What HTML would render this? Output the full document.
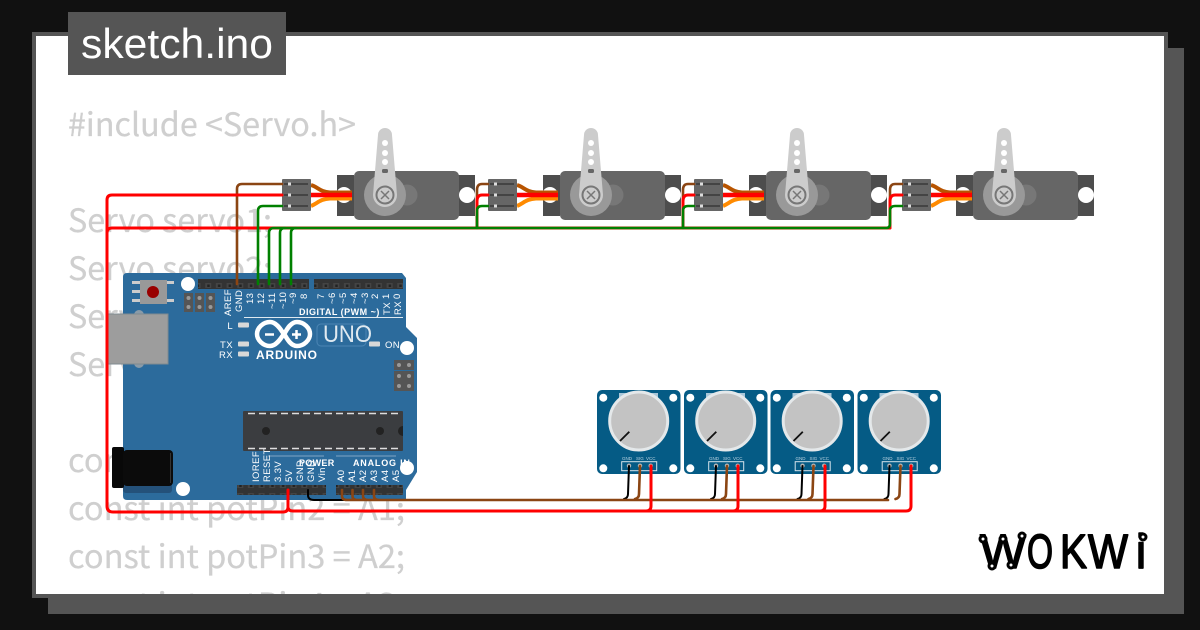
<!DOCTYPE html>
<html><head><meta charset="utf-8"><style>
html,body{margin:0;padding:0;background:#111}
svg{display:block}
.c{font-family:"Noto Sans CJK JP","DejaVu Sans",sans-serif;font-size:32px;fill:#cfcfcf;stroke:#cfcfcf;stroke-width:.25px}
.w{font-family:"Liberation Sans",sans-serif;fill:#fff}
.l{font-family:"Liberation Sans",sans-serif;fill:#fff;font-size:9.5px;letter-spacing:.4px}
.b{font-family:"Liberation Sans",sans-serif;fill:#fff;font-size:9px;font-weight:bold}
.p{font-family:"Liberation Sans",sans-serif;fill:#b9d2e0;font-size:4.5px}
.k{font-family:"Liberation Sans",sans-serif;font-size:48px;fill:#000;stroke:#000;stroke-width:1.6px;stroke-linejoin:round}
.t path,.t line{fill:none;stroke-linejoin:round;stroke-linecap:round}
</style></head><body>
<svg xmlns="http://www.w3.org/2000/svg" width="1200" height="630" viewBox="0 0 1200 630">
<defs>
<pattern id="hp" x="0" y="0" width="10.67" height="10" patternUnits="userSpaceOnUse">
<rect width="10.67" height="10" fill="#333"/><path d="M2.5 3h6v5h-6z" fill="#444"/><path d="M4.5 4.5h2.500v2.500h-2.500z" fill="#222"/>
</pattern>
<g id="servo">
<rect x="-48" y="-20" width="17" height="41" fill="#4d4d4d"/>
<rect x="73" y="-20" width="17" height="41" fill="#4d4d4d"/>
<rect x="-31" y="-24" width="105" height="49" rx="5" fill="#666"/>
<circle cx="-41" cy="0" r="8" fill="#fff"/>
<circle cx="82" cy="0" r="8" fill="#fff"/>
<circle cx="22" cy="0" r="10.500" fill="#777"/>
<circle cx="0" cy="0" r="21" fill="#999"/>
<path d="M-7-60a7 7 0 0 1 14 0L12 0a12 12 0 0 1-24 0Z" fill="#ccc"/>
<circle cx="0" cy="-52" r="3" fill="#fff"/><circle cx="0" cy="-42" r="3" fill="#fff"/><circle cx="0" cy="-33" r="3" fill="#fff"/>
<rect x="-3" y="-26" width="6" height="4" rx="1.500" fill="#666"/>
<circle cx="0" cy="0" r="8.500" fill="#ccc" stroke="#777" stroke-width="2"/>
<path d="M-4-4 4 4M4-4-4 4" stroke="#777" stroke-width="1.500"/>
</g>
<g id="conn">
<rect x="0" y="0" width="29" height="32" rx="1" fill="#666"/>
<path d="M2 4h24v2h-24zM2 15h24v2h-24zM2 26h24v2h-24z" fill="#444"/>
<rect x="6" y="3.500" width="3" height="3" fill="#ddd"/><rect x="6" y="14.500" width="3" height="3" fill="#ddd"/><rect x="6" y="25.500" width="3" height="3" fill="#ddd"/>
</g>
<g id="fat" fill="none">
<path d="M29 6C36 8 38 13 48 13.500H70" stroke="#b85400" stroke-width="4"/>
<path d="M29 27C36 24 38 20 48 19.500H70" stroke="#ff8a00" stroke-width="4"/>
<path d="M29 16H70" stroke="#f00" stroke-width="4.500"/>
</g>
<g id="pot">
<rect x="0" y="0" width="83.500" height="84" rx="5" fill="#055b85"/>
<rect x="22" y="3" width="39" height="7" fill="#a9c6d8"/>
<circle cx="6.300" cy="7.700" r="4" fill="#fff"/><circle cx="76.300" cy="7.700" r="4" fill="#fff"/>
<circle cx="6.300" cy="78.300" r="4" fill="#fff"/><circle cx="76.300" cy="78.300" r="4" fill="#fff"/>
<circle cx="41.700" cy="31" r="29" fill="#c3c3c3" stroke="#e4e8ea" stroke-width="3"/>
<path d="M23 51 32.300 41.700" stroke="#111" stroke-width="1.800"/>
<rect x="24.700" y="71.700" width="35" height="9" fill="none" stroke="#d5e3ea" stroke-width="1"/>
<circle cx="32" cy="75.700" r="2.200" fill="#b3b3b3"/><circle cx="43" cy="75.700" r="2.200" fill="#b3b3b3"/><circle cx="53.700" cy="75.700" r="2.200" fill="#b3b3b3"/>
</g>
</defs>

<rect width="1200" height="630" fill="#111"/>
<rect x="48" y="48" width="1136" height="566" fill="#555"/>
<rect x="32" y="32" width="1136" height="566" fill="#555"/>
<rect x="36" y="36" width="1128" height="558" fill="#fff"/>

<clipPath id="cc"><rect x="36" y="36" width="1128" height="558"/></clipPath>
<g clip-path="url(#cc)">
<text class="c" x="68" y="136" textLength="288" lengthAdjust="spacingAndGlyphs">#include &lt;Servo.h&gt;</text>
<text class="c" x="68" y="232" textLength="204" lengthAdjust="spacingAndGlyphs">Servo servo1;</text>
<text class="c" x="68" y="280" textLength="204" lengthAdjust="spacingAndGlyphs">Servo servo2;</text>
<text class="c" x="68" y="328" textLength="204" lengthAdjust="spacingAndGlyphs">Servo servo3;</text>
<text class="c" x="68" y="376" textLength="204" lengthAdjust="spacingAndGlyphs">Servo servo4;</text>
<text class="c" x="68" y="472" textLength="337" lengthAdjust="spacingAndGlyphs">const int potPin1 = A0;</text>
<text class="c" x="68" y="520" textLength="337" lengthAdjust="spacingAndGlyphs">const int potPin2 = A1;</text>
<text class="c" x="68" y="568" textLength="337" lengthAdjust="spacingAndGlyphs">const int potPin3 = A2;</text>
<text class="c" x="68" y="616" textLength="337" lengthAdjust="spacingAndGlyphs">const int potPin4 = A3;</text>
</g>

<rect x="68" y="12" width="218" height="63" fill="#555"/>
<text class="w" x="81" y="58" font-size="42" textLength="192" lengthAdjust="spacingAndGlyphs">sketch.ino</text>

<!-- Arduino -->
<path d="M127 273H402L406 278V327L417 338V472L406 490V500H127Q123 500 123 496V277Q123 273 127 273Z" fill="#2c6b9c"/>
<rect x="198" y="279" width="111" height="10" fill="url(#hp)"/>
<rect x="314" y="279" width="89" height="10" fill="url(#hp)"/>
<rect x="237" y="485" width="89" height="10" fill="url(#hp)"/>
<rect x="336" y="485" width="67" height="10" fill="url(#hp)"/>
<circle cx="188" cy="284" r="7" fill="#fff"/><circle cx="407" cy="348" r="7" fill="#fff"/>
<circle cx="407" cy="468" r="7" fill="#fff"/><circle cx="183" cy="489" r="7" fill="#fff"/>
<!-- reset -->
<path d="M132 281h9v3h-9zM132 290h9v3h-9zM132 299h9v3h-9zM166 281h8v3h-8zM166 299h8v3h-8z" fill="#ccc"/>
<rect x="140" y="280" width="27" height="24" fill="#999"/><circle cx="153" cy="292" r="6" fill="#900"/>
<!-- icsp -->
<g fill="#555"><rect x="184" y="293" width="9" height="19"/><rect x="195" y="293" width="9" height="19"/><rect x="206" y="293" width="9" height="19"/>
<rect x="394" y="360" width="20" height="10"/><rect x="394" y="371" width="20" height="10"/><rect x="394" y="381" width="20" height="10"/></g>
<g fill="#999"><circle cx="188.500" cy="298" r="2"/><circle cx="188.500" cy="307" r="2"/><circle cx="199.500" cy="298" r="2"/><circle cx="199.500" cy="307" r="2"/><circle cx="210.500" cy="298" r="2"/><circle cx="210.500" cy="307" r="2"/>
<circle cx="399" cy="365" r="2"/><circle cx="409" cy="365" r="2"/><circle cx="399" cy="376" r="2"/><circle cx="409" cy="376" r="2"/><circle cx="399" cy="386" r="2"/><circle cx="409" cy="386" r="2"/></g>
<!-- usb -->
<circle cx="139" cy="315" r="5" fill="#8a9ba8"/><circle cx="139" cy="363" r="5" fill="#8a9ba8"/>
<rect x="108" y="314" width="60" height="50" fill="#9d9d9d" stroke="#7f8a90" stroke-width="1"/>
<!-- jack -->
<rect x="123" y="452" width="49" height="41" rx="3" fill="#24517a"/>
<rect x="112" y="447" width="12" height="41" rx="2" fill="#080808"/>
<rect x="123" y="450" width="50" height="36" rx="4" fill="#0b0b0b"/>
<path d="M170.500 453V483" stroke="#333" stroke-width="1"/>
<!-- chip -->
<rect x="243" y="411" width="160" height="40" rx="1" fill="#3b3d40"/>
<path d="M248 413.500H401M248 448.500H401" stroke="#ddd" stroke-width="1.500" stroke-dasharray="7 4"/>
<circle cx="266" cy="431" r="4" fill="#222"/><circle cx="380" cy="431" r="4" fill="#222"/><path d="M403 426a5 5 0 0 0 0 10z" fill="#222"/>
<!-- top labels -->
<g class="l">
<text class="l" transform="translate(231,316) rotate(-90)">AREF</text>
<text class="l" transform="translate(242,312) rotate(-90)">GND</text>
<text class="l" transform="translate(253,304) rotate(-90)">13</text>
<text class="l" transform="translate(264,304) rotate(-90)">12</text>
<text class="l" transform="translate(275,309) rotate(-90)">~11</text>
<text class="l" transform="translate(286,309) rotate(-90)">~10</text>
<text class="l" transform="translate(296,304) rotate(-90)">~9</text>
<text class="l" transform="translate(307,299) rotate(-90)">8</text>
<text class="l" transform="translate(324,299) rotate(-90)">7</text>
<text class="l" transform="translate(335,304) rotate(-90)">~6</text>
<text class="l" transform="translate(346,304) rotate(-90)">~5</text>
<text class="l" transform="translate(357,304) rotate(-90)">~4</text>
<text class="l" transform="translate(368,304) rotate(-90)">~3</text>
<text class="l" transform="translate(378,299) rotate(-90)">2</text>
<text class="l" transform="translate(389,299) rotate(-90)">1</text>
<text class="l" transform="translate(400,299) rotate(-90)">0</text>
<text class="l" transform="translate(390,315) rotate(-90)">TX</text>
<text class="l" transform="translate(401,315) rotate(-90)">RX</text>
</g>
<text class="b" x="299" y="315" letter-spacing=".5">DIGITAL (PWM ~)</text>
<path d="M244 317.500H403" stroke="#dfe9f0" stroke-width="1"/>
<text class="l" x="233" y="329" text-anchor="end">L</text>
<text class="l" x="233" y="348" text-anchor="end">TX</text>
<text class="l" x="233" y="358" text-anchor="end">RX</text>
<text class="l" x="385" y="348">ON</text>
<g fill="#d8d8d8"><rect x="238" y="322.500" width="11" height="5" rx="1"/><rect x="238" y="341.500" width="11" height="5" rx="1"/><rect x="238" y="351.500" width="11" height="5" rx="1"/><rect x="369" y="341.500" width="11" height="5" rx="1"/></g>
<!-- logo -->
<path d="M270 322C278 322 283 334 284 334C285 334 289 322 297 322C304 322 310 328 310 334C310 340 304 346 297 346C289 346 285 334 284 334C283 334 278 346 270 346C263 346 257 340 257 334C257 328 263 322 270 322Z" fill="none" stroke="#fff" stroke-width="4.500"/>
<path d="M265 334.500H274M292 334.500H301M296.500 330V339" stroke="#fff" stroke-width="2.500"/>
<text class="w" x="256" y="359" font-size="12" font-weight="bold" textLength="61" lengthAdjust="spacing">ARDUINO</text>
<rect x="317" y="324" width="49" height="22" rx="4" fill="none" stroke="#4c86b4" stroke-width="1"/>
<text x="323" y="342" font-size="24" fill="#dfe9f0" font-family="Liberation Sans,sans-serif" textLength="49" lengthAdjust="spacingAndGlyphs">UNO</text>
<!-- bottom labels -->
<text class="b" x="299" y="466" letter-spacing=".3">POWER</text>
<text class="b" x="353" y="466" letter-spacing=".8">ANALOG IN</text>
<path d="M268 456H324M336 456H396" stroke="#7fa6c4" stroke-width="1"/>
<text class="l" transform="translate(259,482) rotate(-90)">IOREF</text>
<text class="l" transform="translate(270,482) rotate(-90)">RESET</text>
<text class="l" transform="translate(281,482) rotate(-90)">3.3V</text>
<text class="l" transform="translate(292,482) rotate(-90)">5V</text>
<text class="l" transform="translate(303,482) rotate(-90)">GND</text>
<text class="l" transform="translate(314,482) rotate(-90)">GND</text>
<text class="l" transform="translate(325,482) rotate(-90)">Vin</text>
<text class="l" transform="translate(344,482) rotate(-90)">A0</text>
<text class="l" transform="translate(355,482) rotate(-90)">A1</text>
<text class="l" transform="translate(366,482) rotate(-90)">A2</text>
<text class="l" transform="translate(377,482) rotate(-90)">A3</text>
<text class="l" transform="translate(388,482) rotate(-90)">A4</text>
<text class="l" transform="translate(399,482) rotate(-90)">A5</text>

<!-- pots -->
<use href="#pot" x="597" y="390"/><use href="#pot" x="684" y="390"/><use href="#pot" x="770.500" y="390"/><use href="#pot" x="857.500" y="390"/>
<g class="p">
<text class="p" x="622" y="460">GND</text><text class="p" x="636" y="460">SIG</text><text class="p" x="646" y="460">VCC</text>
<text class="p" x="709" y="460">GND</text><text class="p" x="723" y="460">SIG</text><text class="p" x="733" y="460">VCC</text>
<text class="p" x="795.500" y="460">GND</text><text class="p" x="809.500" y="460">SIG</text><text class="p" x="819.500" y="460">VCC</text>
<text class="p" x="882.500" y="460">GND</text><text class="p" x="896.500" y="460">SIG</text><text class="p" x="906.500" y="460">VCC</text>
</g>

<!-- servos -->
<use href="#servo" x="385" y="195"/><use href="#servo" x="591" y="195"/><use href="#servo" x="797" y="195"/><use href="#servo" x="1004" y="195"/>
<use href="#fat" x="282" y="179"/><use href="#fat" x="488" y="179"/><use href="#fat" x="694" y="179"/><use href="#fat" x="902" y="179"/>
<use href="#conn" x="282" y="179"/><use href="#conn" x="488" y="179"/><use href="#conn" x="694" y="179"/><use href="#conn" x="902" y="179"/>

<!-- wires -->
<g class="t" stroke-width="2.600">
<g stroke="#000" stroke-width="2">
<path d="M308 490V495Q308 500 314 500H885"/>
<path d="M629 466L628 494Q628 498 624 499"/><path d="M716 466L715 494Q715 498 711 499"/><path d="M802.500 466L801.500 494Q801.500 498 797.500 499"/><path d="M889.500 466L888.500 494Q888.500 498 884.500 499"/>
</g>
<g stroke="#8b4513">
<path d="M237 284V189Q237 184 242 184H282"/>
<path d="M477 228V190Q477 184 482 184H488M683 228V190Q683 184 688 184H694M890 228V190Q890 184 895 184H902"/>
<path d="M342 490V496Q342 500 347 500H888M352.500 490V496Q352.500 500 357 500M363 490V496Q363 500 368 500M374 490V496Q374 500 379 500"/>
<path d="M640 466L639 494Q639 498 635 499M727 466L726 494Q726 498 722 499M813.500 466L812.500 494Q812.500 498 808.500 499M900.500 466L899.500 494Q899.500 498 895.500 499"/>
</g>
<g stroke="#f00" stroke-width="3">
<path d="M282 195H112Q107 195 107 200V506Q107 512 113 512H283Q288 512 288 507V490"/>
<path d="M107 233Q107 228 112 228H477V201Q477 195 482 195H488"/>
<path d="M477 228H683V201Q683 195 688 195H694M683 228H890V201Q890 195 895 195H902"/>
<path d="M288 507Q288 511 293 511H906Q911 511 911 506V466"/>
<path d="M651 466V506Q651 511 646 511M738 466V506Q738 511 733 511M825 466V506Q825 511 820 511"/>
</g>
<g stroke="#008000">
<path d="M258 284V211Q258 206 263 206H282"/>
<path d="M269 284V233Q269 228 274 228H886Q890 228 890 224V211Q890 206 895 206H902"/>
<path d="M280 284V233Q280 228 285 228M291 284V233Q291 228 296 228"/>
<path d="M477 228V211Q477 206 482 206H488M683 228V211Q683 206 688 206H694"/>
</g>
</g>

<!-- wokwi -->
<text class="k" x="980" y="568" textLength="46" lengthAdjust="spacingAndGlyphs">W</text>
<text class="k" x="1027" y="568" textLength="26" lengthAdjust="spacingAndGlyphs">O</text>
<text class="k" x="1060" y="568" textLength="27" lengthAdjust="spacingAndGlyphs">K</text>
<text class="k" x="1088" y="568" textLength="40" lengthAdjust="spacingAndGlyphs">W</text>
<text class="k" x="1136" y="568" textLength="10" lengthAdjust="spacingAndGlyphs">i</text>
<g fill="#fff" stroke="#000" stroke-width="3"><circle cx="983" cy="539" r="3"/><circle cx="1003" cy="539" r="3"/><circle cx="1022" cy="536" r="3"/><circle cx="992" cy="566" r="3"/><circle cx="1011" cy="565" r="3"/><circle cx="1143" cy="537" r="3"/></g>
</svg>
</body></html>
